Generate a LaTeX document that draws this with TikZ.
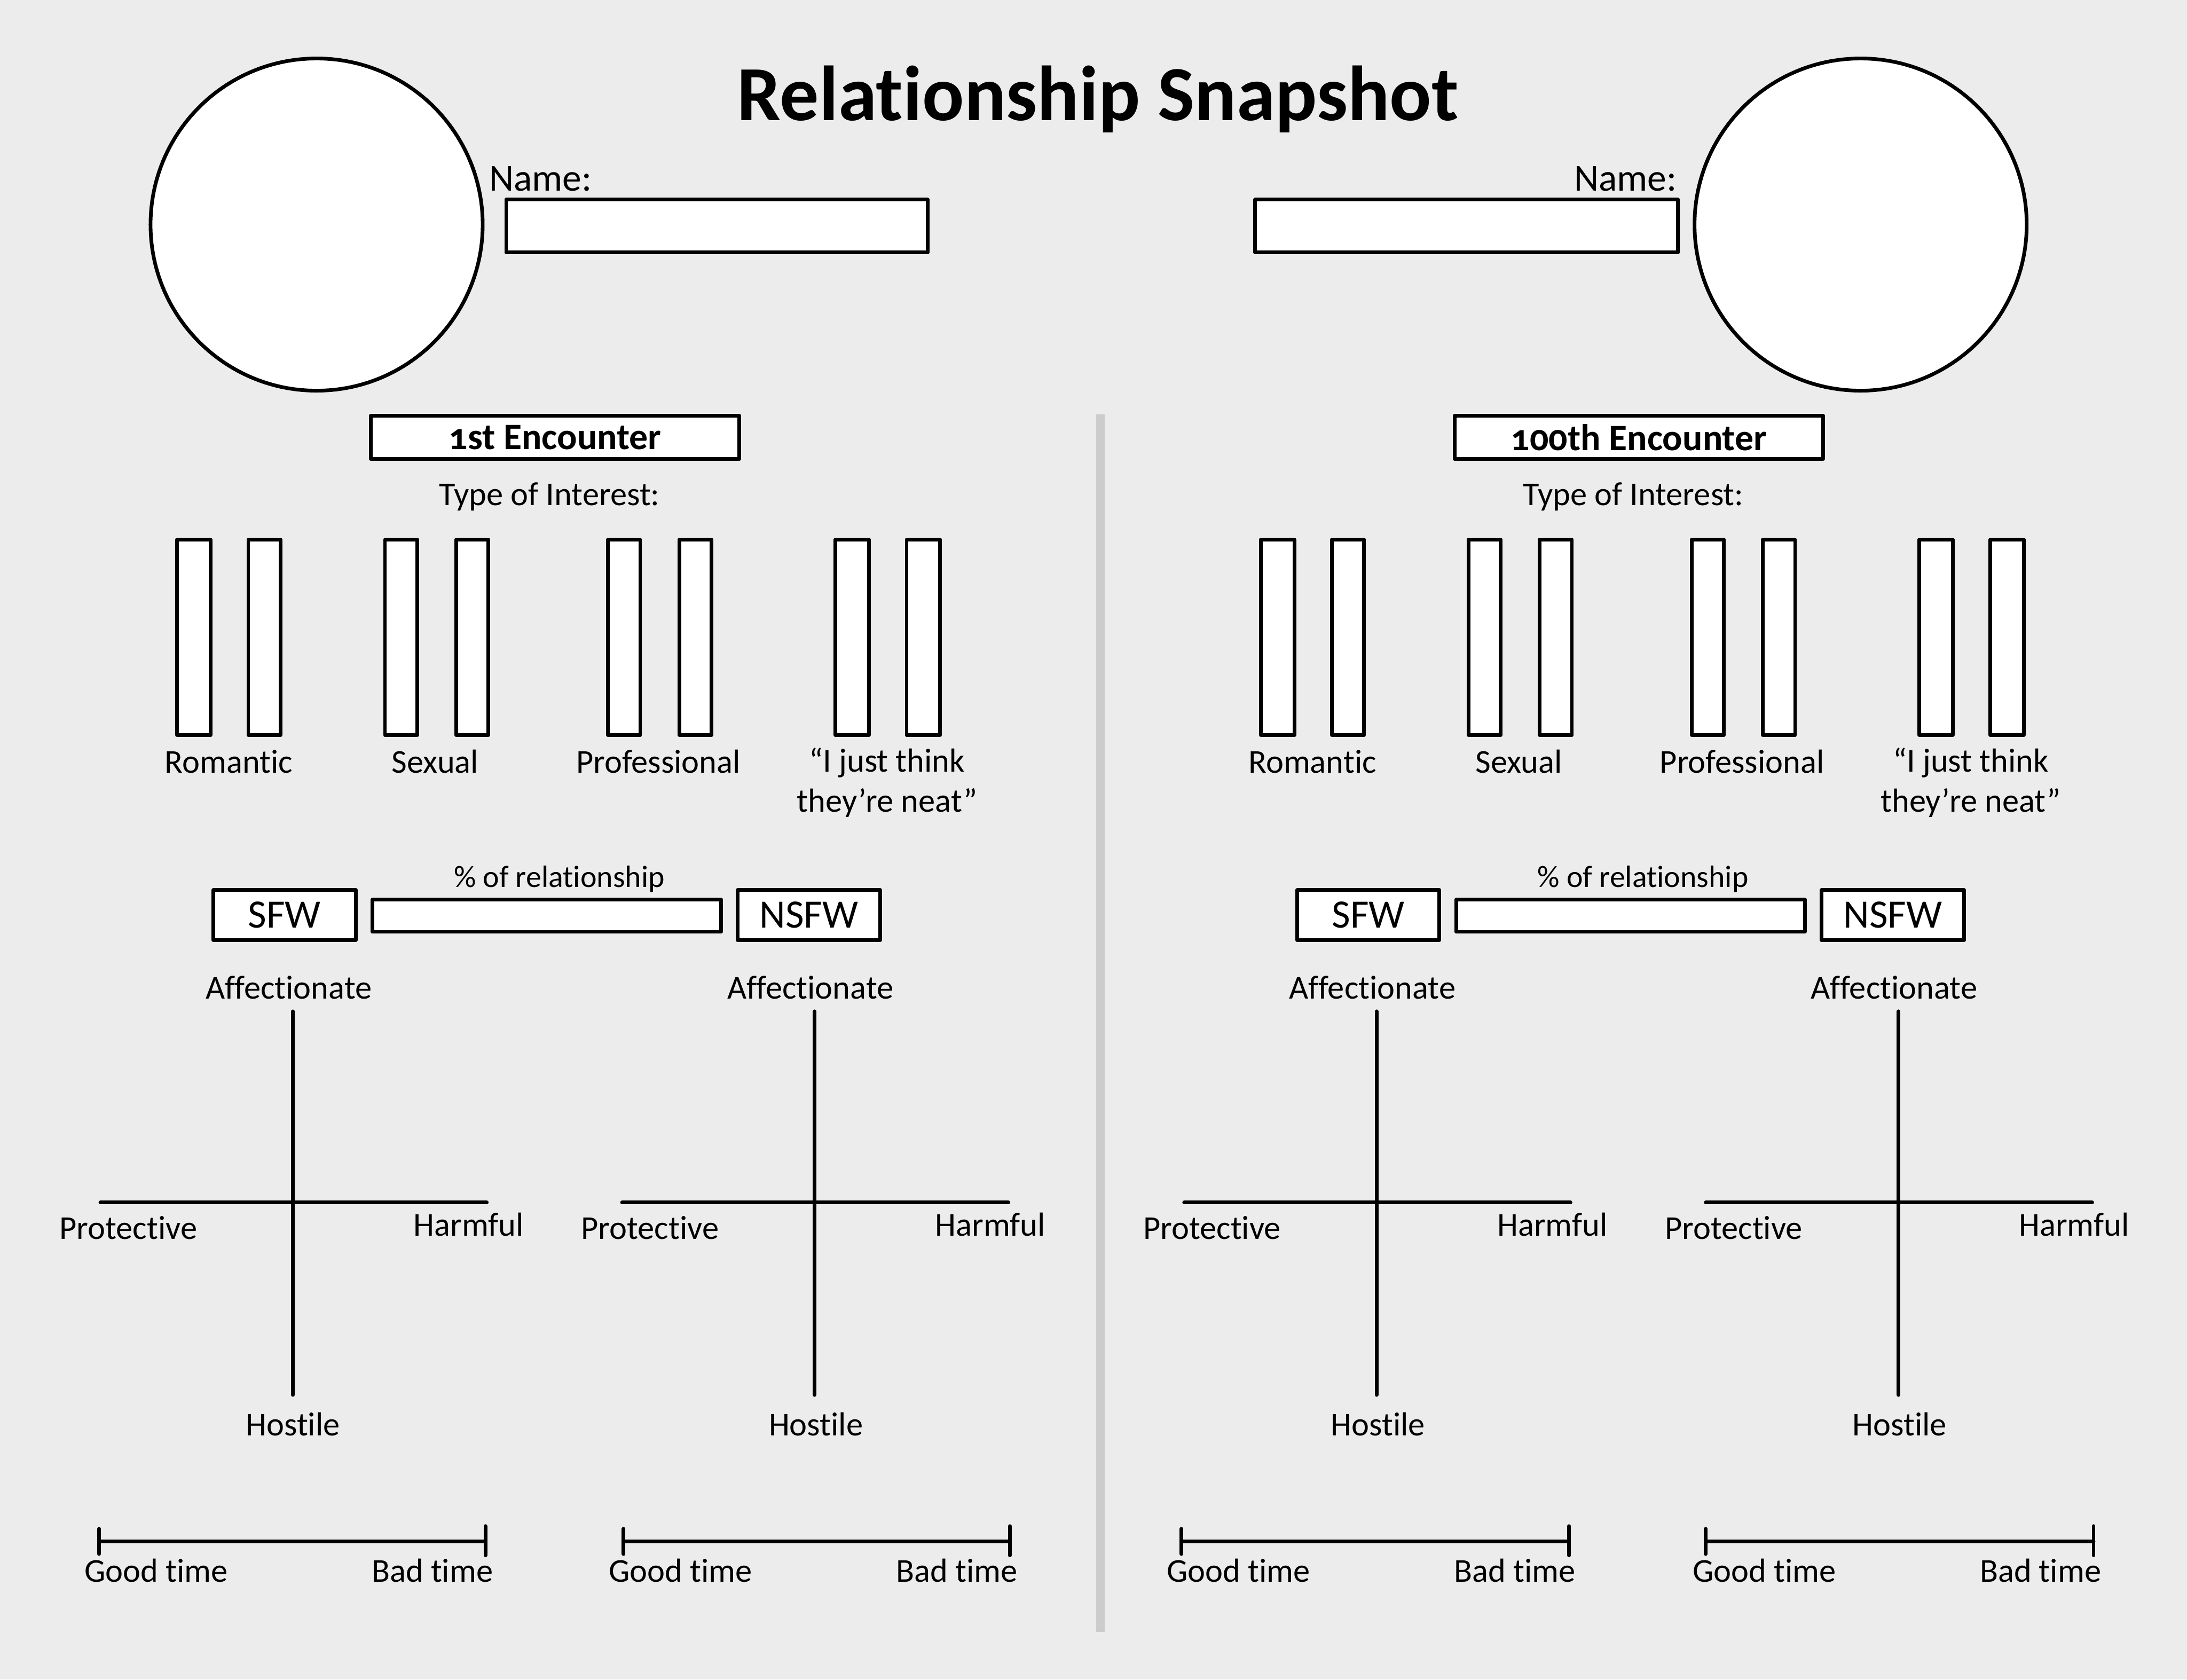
\documentclass[tikz,border=0pt]{standalone}
\usepackage{fontspec}
\setmainfont{Carlito}[Ligatures=NoCommon]
\definecolor{paper}{HTML}{ECECEC}
\definecolor{divider}{HTML}{CCCCCC}

\begin{document}
\begin{tikzpicture}[x=0.01cm, y=-0.01cm, line cap=round, line join=round]
  \def\lw{0.75pt} % nét vẽ chung cho khung, trục
  \tikzset{
    outline/.style={line width=\lw, draw=black, fill=white},
    axisline/.style={line width=\lw, draw=black},
    txt/.style={inner sep=0pt, font=\fontsize{6.8pt}{8.2pt}\selectfont},
    smalltxt/.style={inner sep=0pt, font=\fontsize{6.3pt}{7.5pt}\selectfont},
    tag/.style={outline, inner sep=0pt, minimum width=1.02cm, minimum height=0.36cm, font=\fontsize{8.2pt}{9pt}\selectfont},
    heading/.style={outline, inner sep=0pt, minimum width=2.64cm, minimum height=0.31cm,
      font=\bfseries\fontsize{7.6pt}{9pt}\selectfont\addfontfeatures{Numbers=OldStyle}}
  }

  % nền và vạch chia
  \fill[paper] (0,0) rectangle (1568,1204);
  \draw[divider, line width=0.06cm, line cap=butt] (789,297) -- (789,1170);

  \node[font=\bfseries\fontsize{15.9pt}{18pt}\selectfont] (title) at (787,71) {Relationship Snapshot};

  \node[outline, circle, minimum size=2.38cm] (lphoto) at (227,161) {};
  \node[outline, circle, minimum size=2.38cm] (rphoto) at (1334,161) {};
  \node[outline, inner sep=0pt, minimum width=3.02cm, minimum height=0.38cm] (lname) at (514,162) {};
  \node[outline, inner sep=0pt, minimum width=3.03cm, minimum height=0.38cm] (rname) at (1051.5,162) {};
  \node[txt, font=\fontsize{7.8pt}{9pt}\selectfont, anchor=west] (lnamelbl) at (350,128) {Name:};
  \node[txt, font=\fontsize{7.8pt}{9pt}\selectfont, anchor=east] (rnamelbl) at (1203,128) {Name:};

  % ----- lần gặp đầu -----
  \begin{scope}
    \node[heading] (enc1) at (398,313.5) {1st Encounter};
    \node[txt] (type1) at (394,356) {Type of Interest:};
    \draw[outline] (127,387) rectangle (151,527);
    \draw[outline] (178,387) rectangle (201,527);
    \draw[outline] (276,387) rectangle (299,527);
    \draw[outline] (327,387) rectangle (350,527);
    \draw[outline] (436,387) rectangle (459,527);
    \draw[outline] (487,387) rectangle (510,527);
    \draw[outline] (599,387) rectangle (623,527);
    \draw[outline] (650,387) rectangle (674,527);
    \node[txt] (rom1) at (164,546) {Romantic};
    \node[txt] (sex1) at (312,546) {Sexual};
    \node[txt] (pro1) at (472,546) {Professional};
    \node[txt, align=center] (neat1) at (636,561) {“I just think\\they’re neat”};

    \node[smalltxt] (pct1) at (401,630) {\% of relationship};
    \draw[outline] (267,645) rectangle (517,668);
    \node[tag] (sfw1) at (204,656) {SFW};
    \node[tag] (nsfw1) at (580,656) {NSFW};

    \begin{scope}[shift={(210,862)}]
      \draw[axisline] (-138,0) -- (139,0);
      \draw[axisline] (0,-137) -- (0,138);
      \node[txt] (aff1) at (-3,-154) {Affectionate};
      \node[txt] (prot1) at (-118,18) {Protective};
      \node[txt] (harm1) at (126,16) {Harmful};
      \node[txt] (host1) at (0,159) {Hostile};
      \draw[axisline] (-139,243) -- (138,243);
      \draw[axisline] (-139,234) -- (-139,252);
      \draw[axisline] (138,232) -- (138,253);
      \node[txt] (good1) at (-98,264) {Good time};
      \node[txt] (bad1) at (100,264) {Bad time};
    \end{scope}

    \begin{scope}[shift={(584,862)}]
      \draw[axisline] (-138,0) -- (139,0);
      \draw[axisline] (0,-137) -- (0,138);
      \node[txt] (aff2) at (-3,-154) {Affectionate};
      \node[txt] (prot2) at (-118,18) {Protective};
      \node[txt] (harm2) at (126,16) {Harmful};
      \node[txt] (host2) at (1,159) {Hostile};
      \draw[axisline] (-137,243) -- (140,243);
      \draw[axisline] (-137,234) -- (-137,252);
      \draw[axisline] (140,232) -- (140,253);
      \node[txt] (good2) at (-96,264) {Good time};
      \node[txt] (bad2) at (102,264) {Bad time};
    \end{scope}
  \end{scope}

  % ----- lần gặp thứ 100 -----
  \begin{scope}[shift={(777,0)}]
    \node[heading] (enc2) at (398,313.5) {100th Encounter};
    \node[txt] (type2) at (394,356) {Type of Interest:};
    \draw[outline] (127,387) rectangle (151,527);
    \draw[outline] (178,387) rectangle (201,527);
    \draw[outline] (276,387) rectangle (299,527);
    \draw[outline] (327,387) rectangle (350,527);
    \draw[outline] (436,387) rectangle (459,527);
    \draw[outline] (487,387) rectangle (510,527);
    \draw[outline] (599,387) rectangle (623,527);
    \draw[outline] (650,387) rectangle (674,527);
    \node[txt] (rom2) at (164,546) {Romantic};
    \node[txt] (sex2) at (312,546) {Sexual};
    \node[txt] (pro2) at (472,546) {Professional};
    \node[txt, align=center] (neat2) at (636,561) {“I just think\\they’re neat”};

    \node[smalltxt] (pct2) at (401,630) {\% of relationship};
    \draw[outline] (267,645) rectangle (517,668);
    \node[tag] (sfw2) at (204,656) {SFW};
    \node[tag] (nsfw2) at (580,656) {NSFW};

    \begin{scope}[shift={(210,862)}]
      \draw[axisline] (-138,0) -- (139,0);
      \draw[axisline] (0,-137) -- (0,138);
      \node[txt] (aff3) at (-3,-154) {Affectionate};
      \node[txt] (prot3) at (-118,18) {Protective};
      \node[txt] (harm3) at (126,16) {Harmful};
      \node[txt] (host3) at (1,159) {Hostile};
      \draw[axisline] (-140,243) -- (138,243);
      \draw[axisline] (-140,234) -- (-140,252);
      \draw[axisline] (138,232) -- (138,253);
      \node[txt] (good3) at (-99,264) {Good time};
      \node[txt] (bad3) at (99,264) {Bad time};
    \end{scope}

    \begin{scope}[shift={(584,862)}]
      \draw[axisline] (-138,0) -- (139,0);
      \draw[axisline] (0,-137) -- (0,138);
      \node[txt] (aff4) at (-3,-154) {Affectionate};
      \node[txt] (prot4) at (-118,18) {Protective};
      \node[txt] (harm4) at (126,16) {Harmful};
      \node[txt] (host4) at (1,159) {Hostile};
      \draw[axisline] (-138,243) -- (140,243);
      \draw[axisline] (-138,234) -- (-138,252);
      \draw[axisline] (140,232) -- (140,253);
      \node[txt] (good4) at (-96,264) {Good time};
      \node[txt] (bad4) at (102,264) {Bad time};
    \end{scope}
  \end{scope}

\end{tikzpicture}
\end{document}
